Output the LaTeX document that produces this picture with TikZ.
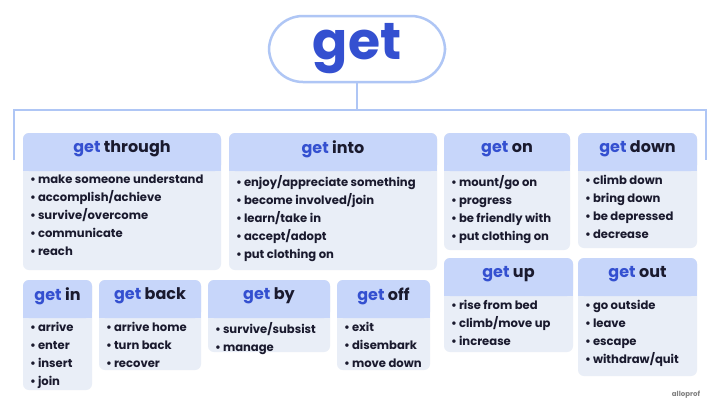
\documentclass[tikz,border=0pt]{standalone}
\usepackage{fontspec}
\setmainfont{Poppins}
\definecolor{gblue}{HTML}{3450D0}
\definecolor{hbg}{HTML}{C7D6FA}
\definecolor{bbg}{HTML}{E9EEF7}
\definecolor{lline}{HTML}{AFC6F5}
\definecolor{ink}{HTML}{1A1A2E}
\tikzset{
 item/.style={anchor=north west,inner sep=0pt,align=left,font=\fontsize{11.6}{18}\bfseries\selectfont,text=ink},
 head/.style={inner sep=0pt,font=\fontsize{16}{18}\bfseries\selectfont,text=ink},
}
\newcommand{\bl}{•\hspace{2pt}}
\newcommand{\gbox}[8]{%
 \fill[bbg,rounded corners=6pt] (#2,-#3) rectangle (#4,-#6);
 \fill[hbg,rounded corners=6pt] (#2,-#3) rectangle (#4,-#5-6);
 \fill[hbg] (#2,-#5-6) rectangle (#4,-#5);
 \node[head] (#1h) at ({(#2+#4)/2},{-(#3+#5)/2}) {\textcolor{gblue}{get} #7};
 \node[item] (#1b) at (#2+7,-#5-10) {#8};
}
\begin{document}
\begin{tikzpicture}[x=1pt,y=1pt]
\useasboundingbox[fill=white] (0,0) rectangle (720,-410);
\node[draw=lline,line width=2.5pt,rounded corners=34pt,fill=white,minimum width=176pt,minimum height=66pt,font=\fontsize{52}{52}\bfseries\selectfont,text=gblue,inner sep=0pt] (get) at (357,-49) {get};
\coordinate (j) at (357,-110);
\coordinate (l) at (14,-110);\coordinate (r) at (706,-110);
\coordinate (lb) at (14,-160);\coordinate (rb) at (706,-160);
\draw[lline,line width=2.5pt] (get.south) -- (j);
\draw[lline,line width=2.5pt] (lb) -- (l) -- (r) -- (rb);
\gbox{thr}{23}{133}{221}{165}{270}{through}{\bl make someone understand\\\bl accomplish/achieve\\\bl survive/overcome\\\bl communicate\\\bl reach}
\gbox{into}{229}{133}{437}{165}{270}{into}{\bl enjoy/appreciate something\\\bl become involved/join\\\bl learn/take in\\\bl accept/adopt\\\bl put clothing on}
\gbox{on}{444}{133}{570}{165}{250}{on}{\bl mount/go on\\\bl progress\\\bl be friendly with\\\bl put clothing on}
\gbox{down}{578}{133}{697}{165}{248}{down}{\bl climb down\\\bl bring down\\\bl be depressed\\\bl decrease}
\gbox{in}{23}{280}{92}{312}{390}{in}{\bl arrive\\\bl enter\\\bl insert\\\bl join}
\gbox{back}{99}{280}{201}{312}{370}{back}{\bl arrive home\\\bl turn back\\\bl recover}
\gbox{by}{208}{280}{330}{312}{352}{by}{\bl survive/subsist\\\bl manage}
\gbox{off}{337}{280}{430}{312}{370}{off}{\bl exit\\\bl disembark\\\bl move down}
\gbox{up}{444}{258}{573}{290}{352}{up}{\bl rise from bed\\\bl climb/move up\\\bl increase}
\gbox{out}{578}{258}{697}{290}{376}{out}{\bl go outside\\\bl leave\\\bl escape\\\bl withdraw/quit}
\node[font=\fontsize{7}{8}\bfseries\selectfont,text=gray] (logo) at (686,-395) {alloprof};
\end{tikzpicture}
\end{document}
